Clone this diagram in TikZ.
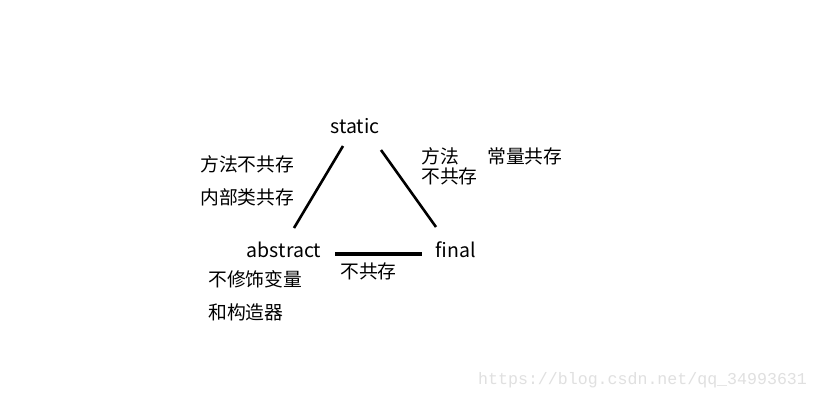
\documentclass[tikz,border=0pt]{standalone}
\usepackage{fontspec}
\setmainfont{Noto Sans CJK SC}
\newfontfamily\markfont{Liberation Mono}
\usetikzlibrary{positioning}

\begin{document}
\begin{tikzpicture}[
  x=1pt, y=-1pt,
  word/.style={inner sep=0pt, font=\fontsize{19.5}{22}\selectfont},
  note/.style={inner sep=0pt, anchor=west, font=\fontsize{18.8}{22}\selectfont},
  edge/.style={line width=2.6pt, line cap=butt}
]
\useasboundingbox[fill=white] (0,0) rectangle (819,400);

\node[word] (static) at (355,126) {static};
\node[word] (abstract) at (284,250) {abstract};
\node[word] (final) at (456,250) {final};

\node[note] (sa1) at (200,164) {方法不共存};
\node[note] (sa2) at (200,197) {内部类共存};
\node[note] (sf1) at (421,156) {方法};
\node[note] (sf2) at (421,176) {不共存};
\node[note] (sf3) at (487,156) {常量共存};
\node[note] (af) at (340,271) {不共存};
\node[note] (ab1) at (208,279) {不修饰变量};
\node[note] (ab2) at (208,312) {和构造器};

\node[anchor=west, inner sep=0pt, text=black!12, font=\markfont\fontsize{16.6}{20}\selectfont] (mark) at (478,380) {https://blog.csdn.net/qq\_34993631};

\draw[edge] ([shift={(-12,20)}]static.center) -- ([shift={(10,-22)}]abstract.center);
\draw[edge] ([shift={(26,24)}]static.center) -- ([shift={(-20,-23)}]final.center);
\draw[edge, line width=3.2pt] ([shift={(51,4)}]abstract.center) -- ([shift={(-34,4)}]final.center);
\end{tikzpicture}
\end{document}
